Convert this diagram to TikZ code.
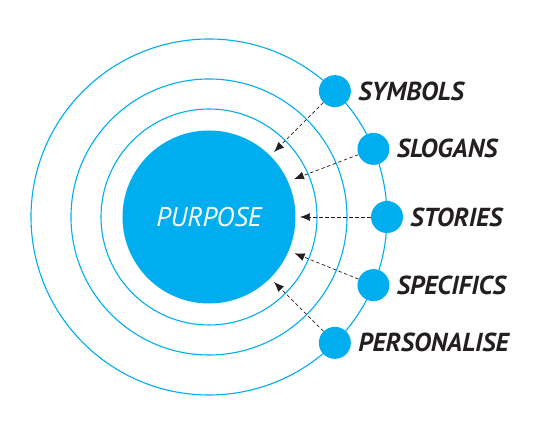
\documentclass[tikz,border=0pt]{standalone}
\usepackage{fontspec}
\setmainfont{PT Sans}
\usetikzlibrary{arrows.meta,positioning}
\definecolor{ringblue}{RGB}{0,174,239}
\definecolor{inkdark}{RGB}{35,31,32}
\tikzset{
  ring/.style={draw=ringblue,line width=1.1pt},
  dot/.style={circle,fill=ringblue,inner sep=0pt,minimum size=32pt},
  tag/.style={font=\fontsize{26}{26}\selectfont\bfseries\itshape,text=inkdark,inner sep=1pt,anchor=west},
  pointer/.style={draw=inkdark,line width=0.7pt,dash pattern=on 3.5pt off 2.5pt,-{Latex[length=10pt,width=8pt]}},
}
\begin{document}
\begin{tikzpicture}[>=latex,line join=bevel,]
    \useasboundingbox (-209pt,-218pt) rectangle (338pt,217pt);
    %%
    \draw [ring] (0,0) circle (178pt);
    \draw [ring] (0,0) circle (138pt);
    \draw [ring] (0,0) circle (108pt);
    \node (purpose) at (0,0) [circle,fill=ringblue,inner sep=0pt,minimum size=173pt,
      font=\fontsize{27}{27}\selectfont\itshape,text=white] {PURPOSE};
    %%
    \node (symbols) at (45:178pt) [dot] {};
    \node (slogans) at (22.5:178pt) [dot] {};
    \node (stories) at (0:178pt) [dot] {};
    \node (specifics) at (-22.5:178pt) [dot] {};
    \node (personalise) at (-45:178pt) [dot] {};
    \node (symbolsText) [tag,right=6pt of symbols.east] {SYMBOLS};
    \node (slogansText) [tag,right=6pt of slogans.east] {SLOGANS};
    \node (storiesText) [tag,right=6pt of stories.east] {STORIES};
    \node (specificsText) [tag,right=6pt of specifics.east] {SPECIFICS};
    \node (personaliseText) [tag,right=6pt of personalise.east] {PERSONALISE};
    %%
    \coordinate (symbolsTip) at (45:92pt);
    \coordinate (slogansTip) at (24:93pt);
    \coordinate (storiesTip) at (0:91pt);
    \coordinate (specificsTip) at (-23:93pt);
    \coordinate (personaliseTip) at (-45:92pt);
    \draw [pointer] (symbols) -- (symbolsTip);
    \draw [pointer] (slogans) -- (slogansTip);
    \draw [pointer] (stories) -- (storiesTip);
    \draw [pointer] (specifics) -- (specificsTip);
    \draw [pointer] (personalise) -- (personaliseTip);
    %
\end{tikzpicture}
\end{document}
